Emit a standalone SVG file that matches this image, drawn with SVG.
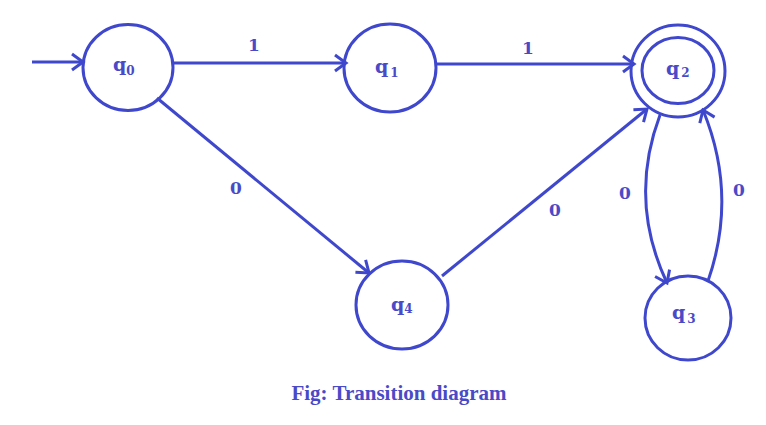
<svg xmlns="http://www.w3.org/2000/svg" width="766" height="425" viewBox="0 0 766 425">
<style>
.st{fill:none;stroke:#3f48cc;stroke-width:3}
.e{fill:none;stroke:#3f48cc;stroke-width:3}
.lbl{font-family:"DejaVu Serif","Liberation Serif",serif;font-weight:bold;fill:#4a4ac8;font-size:17px}
.q{font-family:"DejaVu Serif","Liberation Serif",serif;font-weight:bold;fill:#4a4ac8;font-size:19px}
.sub{font-size:12px}
.cap{font-family:"Liberation Serif","DejaVu Serif",serif;font-weight:bold;fill:#4a4ac8;font-size:21px}
</style>
<defs>
<marker id="arr" markerUnits="userSpaceOnUse" orient="auto" markerWidth="30" markerHeight="30" refX="0" refY="0" viewBox="-15 -15 30 30" overflow="visible">
<path d="M -11 -8 L 0 0 L -11 8" fill="none" stroke="#3f48cc" stroke-width="3"/>
</marker>
</defs>
<rect width="766" height="425" fill="#ffffff"/>
<g id="connectors">
<line class="e" x1="32" y1="62" x2="83" y2="62" marker-end="url(#arr)"/>
<line class="e" x1="173" y1="63" x2="346" y2="63" marker-end="url(#arr)"/>
<line class="e" x1="436" y1="64" x2="634" y2="64" marker-end="url(#arr)"/>
<line class="e" x1="157" y1="98" x2="369" y2="273" marker-end="url(#arr)"/>
<line class="e" x1="442" y1="276" x2="647" y2="109" marker-end="url(#arr)"/>
<path class="e" d="M 660 115 Q 628 200 667 283" marker-end="url(#arr)"/>
<path class="e" d="M 708 281 Q 738 195 703 110" marker-end="url(#arr)"/>
<text class="lbl" x="254" y="51" text-anchor="middle">1</text>
<text class="lbl" x="528" y="54" text-anchor="middle">1</text>
<text class="lbl" x="236" y="194" text-anchor="middle">0</text>
<text class="lbl" x="555" y="216" text-anchor="middle">0</text>
<text class="lbl" x="625" y="199" text-anchor="middle">0</text>
<text class="lbl" x="739" y="196" text-anchor="middle">0</text>
</g>
<g id="q0">
<ellipse class="st" cx="128" cy="67.5" rx="45" ry="43"/>
<text class="q" x="113" y="71">q<tspan class="sub" dy="4">0</tspan></text>
</g>
<g id="q1">
<ellipse class="st" cx="390" cy="68" rx="46" ry="44"/>
<text class="q" x="375" y="73">q<tspan class="sub" dx="2" dy="4">1</tspan></text>
</g>
<g id="q2">
<ellipse class="st" cx="678" cy="71" rx="47" ry="46"/>
<ellipse class="st" cx="678" cy="70.5" rx="36" ry="33"/>
<text class="q" x="666" y="75">q<tspan class="sub" dx="2" dy="2">2</tspan></text>
</g>
<g id="q3">
<ellipse class="st" cx="688" cy="318" rx="43" ry="42"/>
<text class="q" x="672" y="319">q<tspan class="sub" dx="2" dy="4">3</tspan></text>
</g>
<g id="q4">
<ellipse class="st" cx="402" cy="305" rx="46" ry="44"/>
<text class="q" x="391" y="311">q<tspan class="sub" dy="2">4</tspan></text>
</g>
<text class="cap" x="399" y="400" text-anchor="middle">Fig: Transition diagram</text>
</svg>
